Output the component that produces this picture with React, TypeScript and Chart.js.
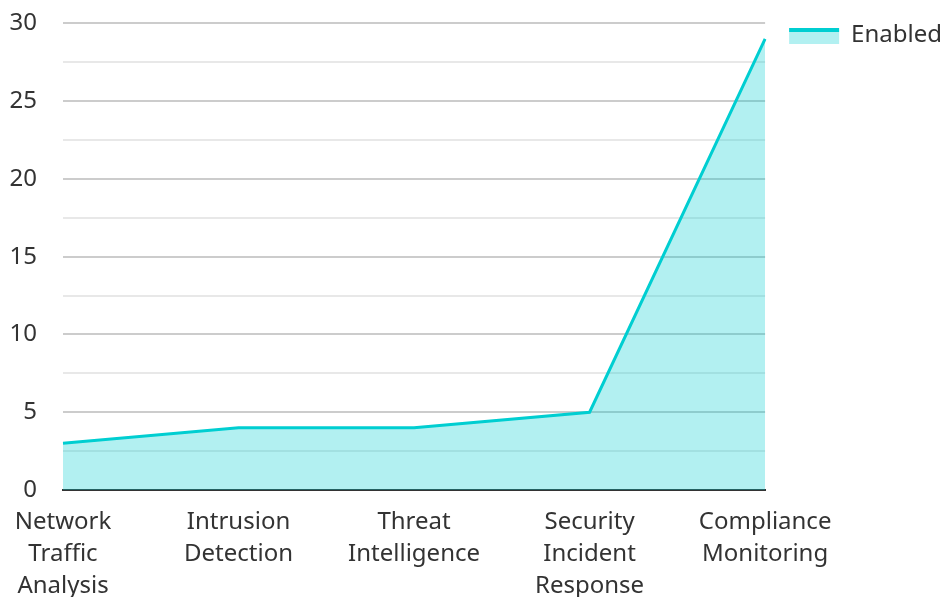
import React, { useEffect, useRef } from "react";
import { Chart, registerables } from "chart.js";

Chart.register(...registerables);

const categories: string[][] = [
  ["Network", "Traffic", "Analysis"],
  ["Intrusion", "Detection"],
  ["Threat", "Intelligence"],
  ["Security", "Incident", "Response"],
  ["Compliance", "Monitoring"],
];
const enabledValues: number[] = [3, 4, 4, 5, 29];
const seriesName = "Enabled";
const yMin = 0;
const yMax = 30;
const yStep = 2.5;
const yLabelStep = 5;

const LINE = "#00CED1";
const FILL = "rgba(0,206,209,0.3)";
const FONT = "'Noto Sans', sans-serif";

export default function App() {
  const ref = useRef<HTMLCanvasElement | null>(null);
  useEffect(() => {
    if (!ref.current) return;
    const legendBoxPlugin = {
      id: "legendBox",
      afterDraw(chart: any) {
        const lg = chart.legend;
        if (!lg || !lg.legendHitBoxes || !lg.legendHitBoxes.length) return;
        const hb = lg.legendHitBoxes[0];
        const ctx = chart.ctx;
        const cy = hb.top + hb.height / 2;
        const x = hb.left;
        const w = 50;
        ctx.save();
        ctx.fillStyle = FILL;
        ctx.fillRect(x, cy - 5, w, 14);
        ctx.fillStyle = LINE;
        ctx.fillRect(x, cy - 7, w, 4);
        ctx.restore();
      },
    };
    const chart = new Chart(ref.current, {
      type: "line",
      data: {
        labels: categories,
        datasets: [
          {
            label: seriesName,
            data: enabledValues,
            borderColor: LINE,
            backgroundColor: FILL,
            borderWidth: 3,
            fill: "origin",
            tension: 0,
            pointRadius: 0,
            pointHoverRadius: 0,
          },
        ],
      },
      options: {
        responsive: false,
        animation: false,
        devicePixelRatio: 1,
        layout: { padding: { top: -1, right: -6, left: 0, bottom: 0 } },
        plugins: {
          tooltip: { enabled: false },
          legend: {
            position: "right",
            align: "start",
            labels: {
              font: { family: FONT, size: 24 },
              color: "#333",
              boxWidth: 50,
              boxHeight: 14,
              padding: 24,
              generateLabels: (c: any) =>
                c.data.datasets.map((d: any, i: number) => ({
                  text: d.label,
                  fillStyle: "rgba(0,0,0,0)",
                  strokeStyle: "rgba(0,0,0,0)",
                  lineWidth: 0,
                  hidden: false,
                  datasetIndex: i,
                  fontColor: "#333",
                })),
            },
          },
        },
        scales: {
          x: {
            z: 1,
            offset: false,
            grid: { display: false },
            border: { display: true, color: "#333", width: 2 },
            ticks: {
              font: { family: FONT, size: 24, lineHeight: 1.333 },
              color: "#333",
              maxRotation: 0,
              autoSkip: false,
              padding: 8,
            },
            afterFit: (s: any) => {
              s.height = 107;
            },
          },
          y: {
            min: yMin,
            max: yMax,
            border: { display: false },
            grid: {
              drawTicks: true,
              tickLength: 17,
              tickColor: "rgba(0,0,0,0)",
              color: (ctx: any) =>
                ctx.tick && ctx.tick.value % yLabelStep === 0 ? "#cccccc" : "#e8e8e8",
              lineWidth: 2,
            },
            ticks: {
              stepSize: yStep,
              font: { family: FONT, size: 24 },
              color: "#333",
              padding: 9,
              callback: (v: any) => (Number(v) % yLabelStep === 0 ? String(v) : ""),
            },
            afterFit: (s: any) => {
              s.width = 63;
            },
          },
        },
      },
      plugins: [legendBoxPlugin],
    });
    return () => chart.destroy();
  }, []);
  return (
    <div style={{ position: "absolute", left: 0, top: 0, width: 946, height: 597 }}>
      <canvas ref={ref} width={946} height={597} />
    </div>
  );
}
